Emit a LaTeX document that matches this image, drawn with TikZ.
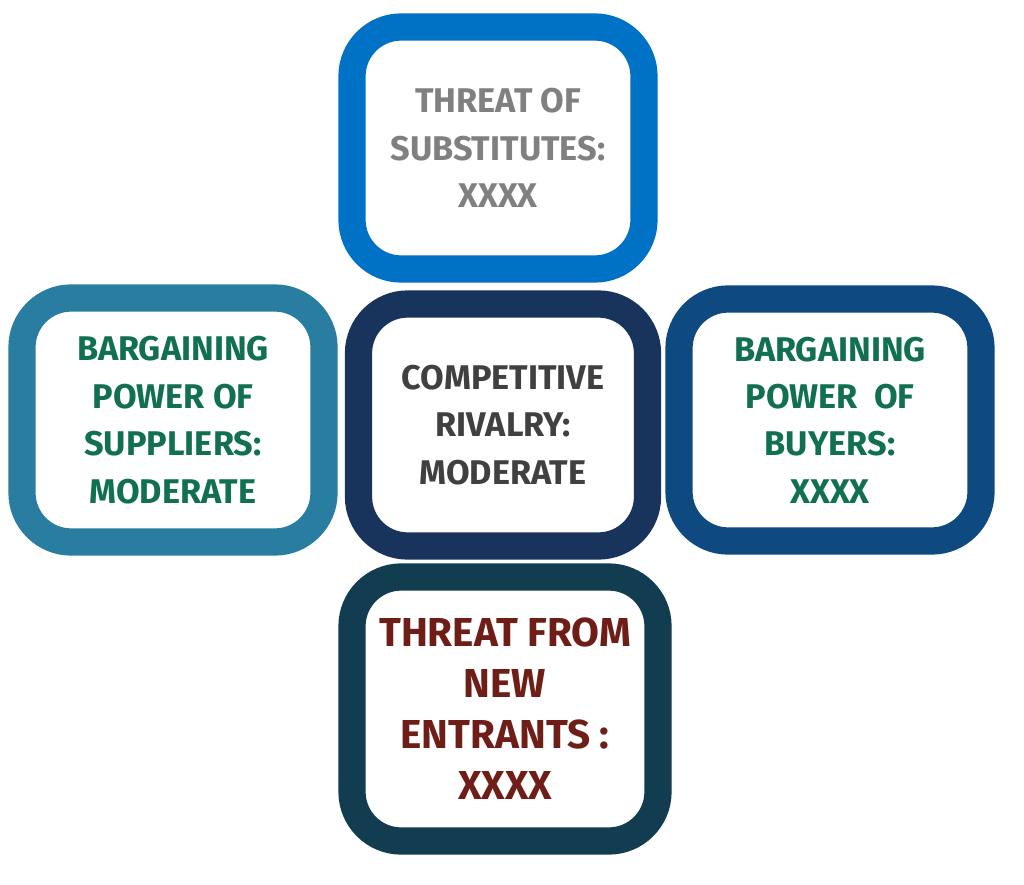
\documentclass[tikz,border=0pt]{standalone}
\usepackage{fontspec}
\setmainfont{Fira Sans}
\definecolor{subblue}{RGB}{0,114,198}
\definecolor{suppteal}{RGB}{40,125,160}
\definecolor{rivnavy}{RGB}{24,52,92}
\definecolor{buyblue}{RGB}{14,74,128}
\definecolor{newteal}{RGB}{18,60,80}
\definecolor{txtgrey}{RGB}{128,128,128}
\definecolor{txtgreen}{RGB}{18,112,82}
\definecolor{txtdark}{RGB}{64,64,64}
\definecolor{txtred}{RGB}{110,30,22}
\tikzset{
  force/.style={draw=#1, fill=white, line width=15.5pt, rounded corners=28pt,
    align=center, font=\fontsize{19.5}{27}\selectfont\bfseries, inner sep=0pt}
}
\begin{document}
\begin{tikzpicture}[x=0.02cm,y=-0.02cm]
  \useasboundingbox (0,0) rectangle (1024,885);

  % the four outer boxes
  \node[force=subblue, minimum width=292*0.02cm, minimum height=242*0.02cm,
        text=txtgrey] (subst) at (498,148) {THREAT OF\\SUBSTITUTES:\\XXXX};
  \node[force=suppteal, minimum width=302*0.02cm, minimum height=244*0.02cm,
        text=txtgreen] (suppl) at (173,420) {BARGAINING\\POWER OF\\SUPPLIERS:\\MODERATE};
  \node[force=buyblue, minimum width=302*0.02cm, minimum height=242*0.02cm,
        text=txtgreen] (buyer) at (830,420) {BARGAINING\\POWER\ \ OF\\BUYERS:\\XXXX};
  \node[force=newteal, minimum width=306*0.02cm, minimum height=264*0.02cm,
        text=txtred, font=\fontsize{23}{29}\selectfont\bfseries] (entr) at (505,709)
        {THREAT FROM\\NEW\\ENTRANTS :\\XXXX};

  % centre box on top
  \node[force=rivnavy, minimum width=289*0.02cm, minimum height=242*0.02cm,
        text=txtdark] (rival) at (503,425) {COMPETITIVE\\RIVALRY:\\MODERATE};
\end{tikzpicture}
\end{document}
